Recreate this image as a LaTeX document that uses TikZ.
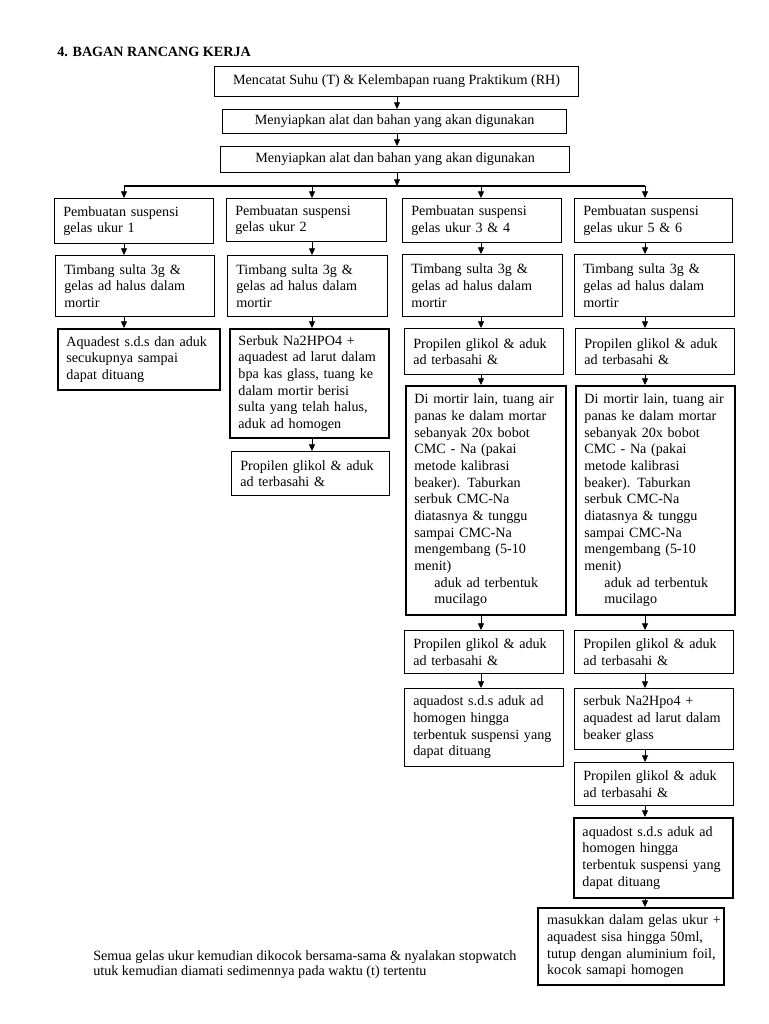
\documentclass[tikz,border=0pt]{standalone}
\usepackage{fontspec}
\setmainfont{Liberation Serif}
\usetikzlibrary{arrows.meta, positioning}
\newcommand{\boxfont}{\fontsize{10.6}{12.5}\selectfont}
\tikzset{stepbox/.style={draw, line width=0.9pt, anchor=north west, align=left, inner xsep=6.5pt, inner ysep=0pt, text width=106.25pt, font=\boxfont},
  topbox/.style={draw, line width=0.9pt, anchor=north west, align=center, inner sep=0pt, font=\boxfont},
  arr/.style={-{Triangle[length=5pt,width=4.5pt]}, line width=0.6pt},}

\begin{document}
\begin{tikzpicture}[x=1pt, y=-1pt]
   \fill[white] (0,0) rectangle (576,768);
   \useasboundingbox (0,0) rectangle (576,768);
   \node[font=\bfseries\boxfont, anchor=west, inner sep=0pt] (title) at (42.75,39) {4. BAGAN RANCANG KERJA};
   % top chain
   \node[topbox, minimum width=273pt, minimum height=22.5pt] (suhu) at (160.5,49.5) {Mencatat Suhu (T) \& Kelembapan ruang Praktikum (RH)};
   \node[topbox, minimum width=258pt, minimum height=18pt] (siap1) at (166.5,81.75) {Menyiapkan alat dan bahan yang akan digunakan};
   \node[topbox, minimum width=261.75pt, minimum height=19.5pt] (siap2) at (165,109.5) {Menyiapkan alat dan bahan yang akan digunakan};
   \coordinate (c0) at (297.75,0);
   \coordinate (c1) at (93,0);
   \coordinate (c2) at (234,0);
   \coordinate (c3) at (360.75,0);
   \coordinate (c4) at (483.75,0);
   \coordinate (split) at (297.75,139.5);
   % gelas ukur 1
   \node[stepbox, minimum height=33.75pt] (buat1) at (40.5,148.5) {Pembuatan suspensi\\gelas ukur 1};
   \node[stepbox, minimum height=45.75pt] (timbang1) at (41.25,191.25) {Timbang sulta 3g \&\\gelas ad halus dalam\\mortir};
   \node[stepbox, text width=108.5pt, minimum height=45.75pt, line width=1.2pt] (aqua1) at (42.75,246) {Aquadest s.d.s dan aduk\\secukupnya sampai\\dapat dituang};
   % gelas ukur 2
   \node[stepbox, text width=107pt, minimum height=32.25pt] (buat2) at (169.5,148.5) {Pembuatan suspensi\\gelas ukur 2};
   \node[stepbox, text width=107pt, minimum height=45.75pt] (timbang2) at (170.25,191.25) {Timbang sulta 3g \&\\gelas ad halus dalam\\mortir};
   \node[stepbox, text width=106.25pt, minimum height=81.75pt, line width=1.2pt] (serbuk2) at (171.75,246) {Serbuk Na2HPO4 +\\aquadest ad larut dalam\\bpa kas glass, tuang ke\\dalam mortir berisi\\sulta yang telah halus,\\aduk ad homogen};
   \node[stepbox, text width=105.5pt, minimum height=33pt] (glikol2) at (173.25,338.25) {Propilen glikol \& aduk\\ad terbasahi \&};
   % gelas ukur 3 & 4
   \node[stepbox, minimum height=33pt] (buat3) at (301.5,148.5) {Pembuatan suspensi\\gelas ukur 3 \& 4};
   \node[stepbox, text width=107pt, minimum height=46.5pt] (timbang3) at (301.5,190.5) {Timbang sulta 3g \&\\gelas ad halus dalam\\mortir};
   \node[stepbox, minimum height=34.5pt] (glikol3) at (303,246) {Propilen glikol \& aduk\\ad terbasahi \&};
   \node[stepbox, text width=107pt, minimum height=171.75pt, line width=1.2pt] (mortir3) at (303.75,288.75) {Di mortir lain, tuang air\\panas ke dalam mortar\\sebanyak 20x bobot\\CMC - Na (pakai\\metode kalibrasi\\beaker). Taburkan\\serbuk CMC-Na\\diatasnya \& tunggu\\sampai CMC-Na\\mengembang (5-10\\menit)\\\hspace*{15pt}aduk ad terbentuk\\\hspace*{15pt}mucilago};
   \node[stepbox, minimum height=32.25pt] (glikol3b) at (303,472.5) {Propilen glikol \& aduk\\ad terbasahi \&};
   \node[stepbox, minimum height=58.5pt] (aqua3) at (303,516) {aquadost s.d.s aduk ad\\homogen hingga\\terbentuk suspensi yang\\dapat dituang};
   % gelas ukur 5 & 6
   \node[stepbox, text width=105.5pt, minimum height=33pt] (buat4) at (430.5,148.5) {Pembuatan suspensi\\gelas ukur 5 \& 6};
   \node[stepbox, text width=107pt, minimum height=46.5pt] (timbang4) at (430.5,190.5) {Timbang sulta 3g \&\\gelas ad halus dalam\\mortir};
   \node[stepbox, minimum height=34.5pt] (glikol4) at (431.25,246) {Propilen glikol \& aduk\\ad terbasahi \&};
   \node[stepbox, minimum height=171.75pt, line width=1.2pt] (mortir4) at (431.25,288.75) {Di mortir lain, tuang air\\panas ke dalam mortar\\sebanyak 20x bobot\\CMC - Na (pakai\\metode kalibrasi\\beaker). Taburkan\\serbuk CMC-Na\\diatasnya \& tunggu\\sampai CMC-Na\\mengembang (5-10\\menit)\\\hspace*{15pt}aduk ad terbentuk\\\hspace*{15pt}mucilago};
   \node[stepbox, minimum height=32.25pt] (glikol4b) at (430.5,472.5) {Propilen glikol \& aduk\\ad terbasahi \&};
   \node[stepbox, minimum height=45.75pt] (serbuk4) at (430.5,516) {serbuk Na2Hpo4 +\\aquadest ad larut dalam\\beaker glass};
   \node[stepbox, minimum height=32.25pt] (glikol4c) at (430.5,571.5) {Propilen glikol \& aduk\\ad terbasahi \&};
   \node[stepbox, minimum height=60pt, line width=1.2pt] (aqua4) at (429.75,612.75) {aquadost s.d.s aduk ad\\homogen hingga\\terbentuk suspensi yang\\dapat dituang};
   \node[stepbox, inner xsep=2pt, text width=135.5pt, minimum height=57.75pt, line width=1.2pt] (masuk4) at (402.75,680.25) {\hspace*{5pt}\mbox{masukkan dalam gelas ukur +}\\\hspace*{5pt}aquadest sisa hingga 50ml,\\\hspace*{5pt}tutup dengan aluminium foil,\\\hspace*{5pt}kocok samapi homogen};
   \node[anchor=west, align=left, inner sep=0pt, font=\fontsize{10.6}{11.3}\selectfont] (semua) at (69.75,723.4) {Semua gelas ukur kemudian dikocok bersama-sama \& nyalakan stopwatch\\utuk kemudian diamati sedimennya pada waktu (t) tertentu};
   % arrows
   \draw[arr] (suhu.south -| c0) -- (siap1.north -| c0);
   \draw[arr] (siap1.south -| c0) -- (siap2.north -| c0);
   \draw[arr] (siap2.south -| c0) -- (split);
   \draw[line width=0.9pt] (split -| c1) -- (split -| c4);
   \foreach \b/\c in {buat1/c1, buat2/c2, buat3/c3, buat4/c4}
      \draw[arr] (split -| \c) -- (\b.north -| \c);
   \foreach \a/\b/\c in {buat1/timbang1/c1, timbang1/aqua1/c1,
      buat2/timbang2/c2, timbang2/serbuk2/c2, serbuk2/glikol2/c2,
      buat3/timbang3/c3, timbang3/glikol3/c3, glikol3/mortir3/c3, mortir3/glikol3b/c3, glikol3b/aqua3/c3,
      buat4/timbang4/c4, timbang4/glikol4/c4, glikol4/mortir4/c4, mortir4/glikol4b/c4, glikol4b/serbuk4/c4,
      serbuk4/glikol4c/c4, glikol4c/aqua4/c4, aqua4/masuk4/c4}
      \draw[arr] (\a.south -| \c) -- (\b.north -| \c);
\end{tikzpicture}
\end{document}
